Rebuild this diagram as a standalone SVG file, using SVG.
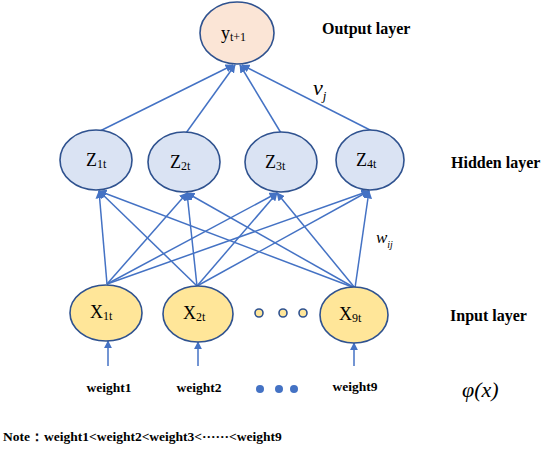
<svg xmlns="http://www.w3.org/2000/svg" width="550" height="449" viewBox="0 0 550 449">
<defs>
<marker id="arr" viewBox="0 0 10 10" refX="9" refY="5" markerWidth="5.5" markerHeight="5.5" orient="auto" markerUnits="strokeWidth">
<path d="M0,0 L10,5 L0,10 Z" fill="#4472C4"/>
</marker>
<style>
.ln{stroke:#4472C4;stroke-width:1.5;fill:none;marker-end:url(#arr)}
.nd{stroke:#2F528F;stroke-width:1.6}
.out{fill:#FBE5D6}
.hid{fill:#DAE3F3}
.inp{fill:#FFE699}
.nt{font-family:"Liberation Serif","DejaVu Serif",serif;font-size:18px;fill:#000}
.sb{font-size:12px}
.lay{font-family:"Liberation Serif","DejaVu Serif",serif;font-size:16px;font-weight:bold;fill:#000}
.wt{font-family:"Liberation Serif","DejaVu Serif",serif;font-size:13.5px;font-weight:bold;fill:#000}
.math{font-family:"Liberation Serif","DejaVu Serif",serif;font-style:italic;fill:#000}
</style>
</defs>
<rect width="550" height="449" fill="#fff"/>
<g id="connectors">
<line class="ln" x1="100" y1="131" x2="233" y2="65"/>
<line class="ln" x1="186" y1="133" x2="235" y2="65"/>
<line class="ln" x1="281" y1="133" x2="240" y2="65"/>
<line class="ln" x1="372" y1="131" x2="242" y2="65"/>
<line class="ln" x1="107" y1="284" x2="99" y2="191"/>
<line class="ln" x1="107" y1="284" x2="187" y2="193"/>
<line class="ln" x1="107" y1="284" x2="277" y2="193"/>
<line class="ln" x1="107" y1="284" x2="369" y2="191"/>
<line class="ln" x1="197" y1="286" x2="99" y2="191"/>
<line class="ln" x1="197" y1="286" x2="187" y2="193"/>
<line class="ln" x1="197" y1="286" x2="277" y2="193"/>
<line class="ln" x1="197" y1="286" x2="369" y2="191"/>
<line class="ln" x1="355" y1="288" x2="99" y2="191"/>
<line class="ln" x1="355" y1="288" x2="187" y2="193"/>
<line class="ln" x1="355" y1="288" x2="277" y2="193"/>
<line class="ln" x1="355" y1="288" x2="369" y2="191"/>
<line class="ln" x1="108" y1="366" x2="108" y2="341"/>
<line class="ln" x1="198" y1="366" x2="198" y2="342"/>
<line class="ln" x1="354" y1="366" x2="354" y2="343"/>
</g>
<g id="node-y">
<ellipse class="nd out" cx="237" cy="33" rx="37" ry="31"/>
<text class="nt" x="221" y="39">y<tspan class="sb" dy="2">t+1</tspan></text>
</g>
<g id="node-z1">
<ellipse class="nd hid" cx="96" cy="160" rx="36" ry="30"/>
<text class="nt" x="86" y="166">Z<tspan class="sb" dy="2">1t</tspan></text>
</g>
<g id="node-z2">
<ellipse class="nd hid" cx="184" cy="162" rx="36" ry="30"/>
<text class="nt" x="170" y="168">Z<tspan class="sb" dy="2">2t</tspan></text>
</g>
<g id="node-z3">
<ellipse class="nd hid" cx="281" cy="162" rx="36" ry="30"/>
<text class="nt" x="265" y="168">Z<tspan class="sb" dy="2">3t</tspan></text>
</g>
<g id="node-z4">
<ellipse class="nd hid" cx="370" cy="160" rx="34" ry="30"/>
<text class="nt" x="356" y="166">Z<tspan class="sb" dy="2">4t</tspan></text>
</g>
<g id="node-x1">
<ellipse class="nd inp" cx="106" cy="313" rx="36" ry="28"/>
<text class="nt" x="90" y="318">X<tspan class="sb" dy="2">1t</tspan></text>
</g>
<g id="node-x2">
<ellipse class="nd inp" cx="198" cy="314" rx="35" ry="28"/>
<text class="nt" x="183" y="319">X<tspan class="sb" dy="2">2t</tspan></text>
</g>
<g id="node-dots">
<circle class="nd inp" cx="259" cy="313" r="4"/>
<circle class="nd inp" cx="283" cy="313" r="4"/>
<circle class="nd inp" cx="303" cy="313" r="4"/>
</g>
<g id="node-x9">
<ellipse class="nd inp" cx="354" cy="315" rx="34" ry="28"/>
<text class="nt" x="339" y="320">X<tspan class="sb" dy="2">9t</tspan></text>
</g>
<g id="labels">
<text class="lay" x="322" y="34">Output layer</text>
<text class="lay" x="451" y="168">Hidden layer</text>
<text class="lay" x="450" y="321">Input layer</text>
<text class="math" x="313" y="95" font-size="22">v<tspan font-size="13" dy="5">j</tspan></text>
<text class="math" x="376" y="243" font-size="17">w<tspan font-size="10" dy="5">ij</tspan></text>
<text class="wt" x="109" y="392" text-anchor="middle">weight1</text>
<text class="wt" x="199" y="392" text-anchor="middle">weight2</text>
<text class="wt" x="355" y="391" text-anchor="middle">weight9</text>
<circle cx="260" cy="389" r="4" fill="#4472C4"/>
<circle cx="279" cy="389" r="4" fill="#4472C4"/>
<circle cx="294" cy="389" r="4" fill="#4472C4"/>
<text class="math" x="462" y="397" font-size="22">φ(x)</text>
<text class="wt" x="3" y="441">Note：weight1&lt;weight2&lt;weight3&lt;······&lt;weight9</text>
</g>
</svg>
